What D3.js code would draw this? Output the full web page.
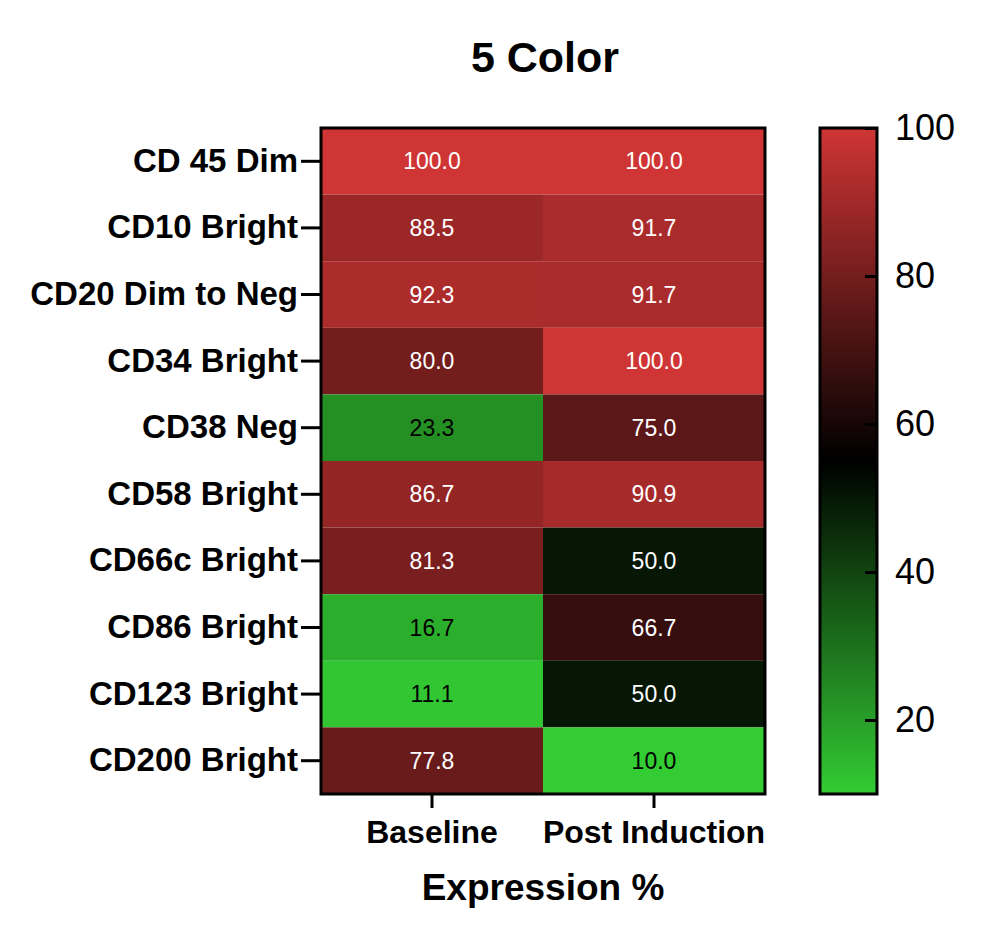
<!DOCTYPE html>
<html><head><meta charset="utf-8">
<script src="https://cdn.jsdelivr.net/npm/d3@7"></script>
<style>body{margin:0;background:#fff;font-family:"Liberation Sans",Arial,sans-serif;}</style>
</head><body><div id="chart"></div>
<script>
// Data
const rows = ["CD 45 Dim","CD10 Bright","CD20 Dim to Neg","CD34 Bright","CD38 Neg","CD58 Bright","CD66c Bright","CD86 Bright","CD123 Bright","CD200 Bright"];
const cols = ["Baseline","Post Induction"];
const baseline = [100.0,88.5,92.3,80.0,23.3,86.7,81.3,16.7,11.1,77.8];
const postInduction = [100.0,91.7,91.7,100.0,75.0,90.9,50.0,66.7,50.0,10.0];
const colorTicks = [20,40,60,80,100];

const width = 986, height = 941;
const svg = d3.select("#chart").append("svg").attr("width", width).attr("height", height);

const x = d3.scaleBand().domain(cols).range([321, 765]);
const y = d3.scaleBand().domain(rows).range([128, 794]);
const color = d3.scaleLinear().domain([10, 55, 100]).range(["#33cc33", "#000000", "#d03535"]);

const cells = [];
rows.forEach((r, i) => {
  cells.push({row: r, col: cols[0], v: baseline[i]});
  cells.push({row: r, col: cols[1], v: postInduction[i]});
});

svg.append("g").selectAll("rect").data(cells).enter().append("rect")
   .attr("x", d => x(d.col)).attr("y", d => y(d.row))
   .attr("width", x.bandwidth()).attr("height", y.bandwidth())
   .attr("fill", d => color(d.v));

svg.append("g").selectAll("text").data(cells).enter().append("text")
   .attr("x", d => x(d.col) + x.bandwidth() / 2).attr("y", d => y(d.row) + y.bandwidth() / 2)
   .attr("dy", "0.35em").attr("text-anchor", "middle").attr("font-size", 23)
   .attr("fill", d => d.v < 35 ? "#000" : "#fff")
   .text(d => d.v.toFixed(1));

svg.append("rect").attr("x", 321).attr("y", 128).attr("width", 444).attr("height", 666)
   .attr("fill", "none").attr("stroke", "#000").attr("stroke-width", 3);

// Axes
const yAx = svg.append("g").attr("transform", "translate(321,0)")
   .call(d3.axisLeft(y).tickSize(20).tickPadding(3));
yAx.select(".domain").remove();
yAx.selectAll("line").attr("stroke-width", 3);
yAx.selectAll("text").attr("font-size", 33).attr("font-weight", "bold").attr("fill", "#000");

const xAx = svg.append("g").attr("transform", "translate(0,794)")
   .call(d3.axisBottom(x).tickSize(14).tickPadding(12));
xAx.select(".domain").remove();
xAx.selectAll("line").attr("stroke-width", 3);
xAx.selectAll("text").attr("font-size", 32).attr("font-weight", "bold").attr("fill", "#000");

svg.append("text").attr("x", 543).attr("y", 900).attr("text-anchor", "middle")
   .attr("font-size", 37).attr("font-weight", "bold").text("Expression %");
svg.append("text").attr("x", 545).attr("y", 72).attr("text-anchor", "middle")
   .attr("font-size", 43).attr("font-weight", "bold").text("5 Color");

// Colour bar
const cy = d3.scaleLinear().domain([10, 100]).range([794, 128]);
const defs = svg.append("defs");
const grad = defs.append("linearGradient").attr("id", "cb").attr("x1", 0).attr("x2", 0).attr("y1", 1).attr("y2", 0);
d3.range(0, 11).forEach(i => {
  const v = 10 + i * 9;
  grad.append("stop").attr("offset", i / 10).attr("stop-color", color(v));
});
svg.append("rect").attr("x", 820).attr("y", 128).attr("width", 57).attr("height", 666)
   .attr("fill", "url(#cb)").attr("stroke", "#000").attr("stroke-width", 3);
const cAx = svg.append("g").attr("transform", "translate(877,0)")
   .call(d3.axisRight(cy).tickValues(colorTicks).tickSize(0).tickPadding(18));
cAx.select(".domain").remove();
cAx.selectAll("text").attr("font-size", 36).attr("fill", "#000");
cAx.selectAll(".tick").append("line").attr("x1", -12).attr("x2", 0).attr("stroke", "#000").attr("stroke-width", 3);
</script>
</body></html>
